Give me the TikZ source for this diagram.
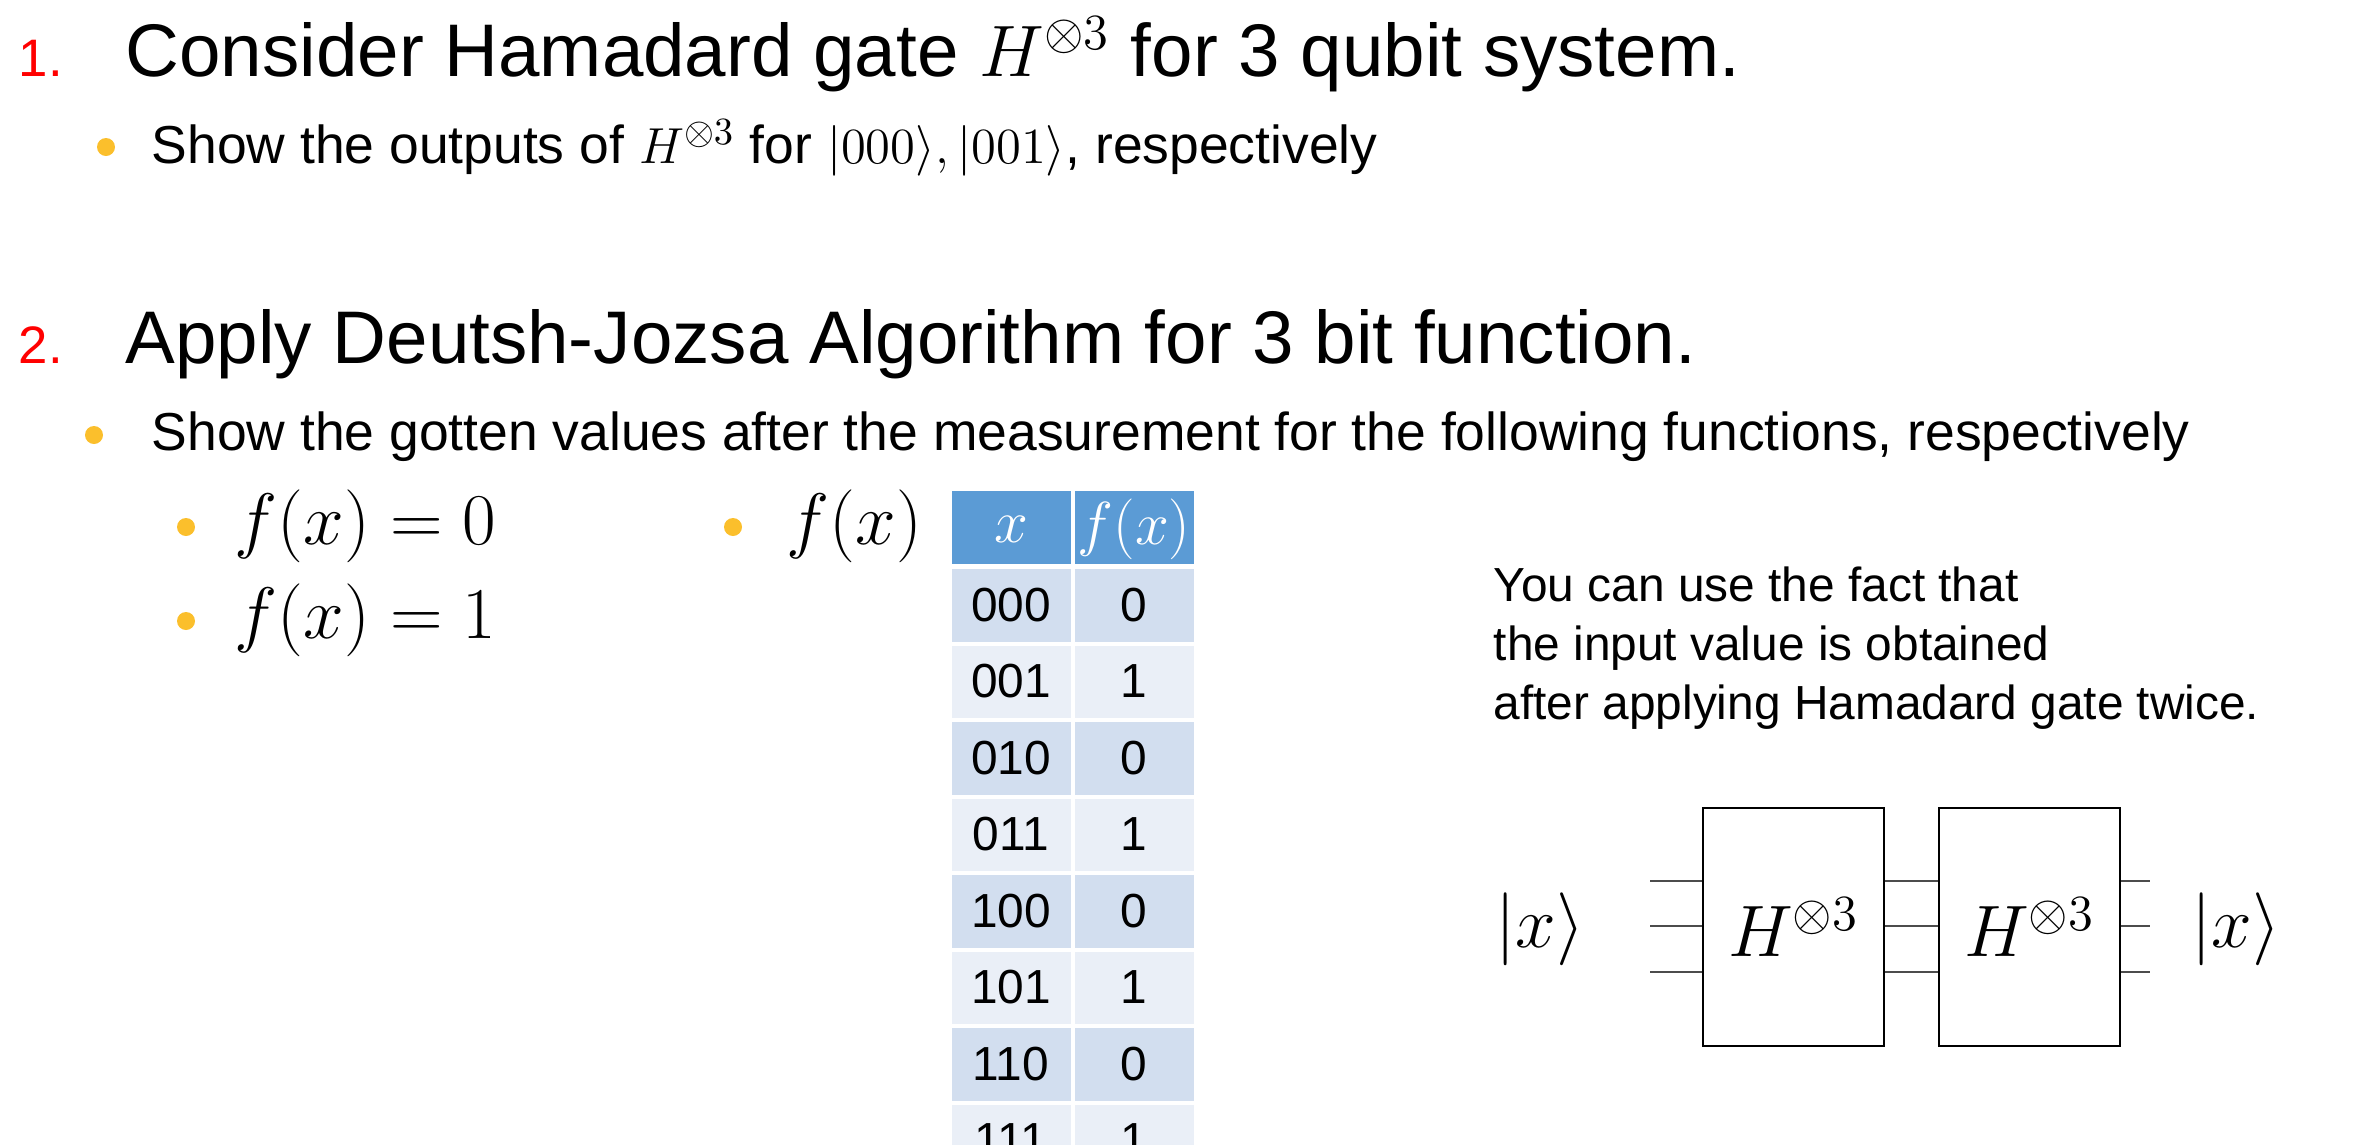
\documentclass[tikz,border=0pt]{standalone}
\usepackage{fontspec}
\setmainfont{Liberation Sans}
\definecolor{hdr}{HTML}{5B9BD5}
\definecolor{rowA}{HTML}{D2DEEF}
\definecolor{rowB}{HTML}{EAEFF7}
\definecolor{bul}{HTML}{FBBF2C}
\definecolor{red1}{HTML}{FF0000}
\begin{document}
\begin{tikzpicture}[x=0.01cm,y=-0.01cm,
  title/.style={anchor=base west,inner sep=0,font=\fontsize{21.2}{25}\selectfont},
  num/.style={anchor=base west,inner sep=0,text=red1,font=\fontsize{15}{18}\selectfont},
  txt/.style={anchor=base west,inner sep=0,font=\fontsize{15.2}{18}\selectfont},
  mtxt/.style={anchor=base west,inner sep=0,font=\fontsize{19.5}{23}\selectfont},
  ctxt/.style={anchor=base west,inner sep=0,font=\fontsize{13.6}{16}\selectfont},
  dot/.style={circle,fill=bul,inner sep=0,minimum size=18*0.01cm},
  cell/.style={inner sep=0,font=\fontsize{13.6}{16}\selectfont},
  gate/.style={draw,line width=0.8pt,inner sep=0,minimum width=181*0.01cm,minimum height=238*0.01cm,font=\fontsize{20}{24}\selectfont},
  wire/.style={draw=black!70,line width=0.5pt}]
\useasboundingbox (0,0) rectangle (2370,1144);
\node[num] (n1) at (18,76) {1.};
\node[title] (t1) at (125,76) {Consider Hamadard gate $H^{\otimes 3}$ for 3 qubit system.};
\node[dot] (d1) at (106,147) {};
\node[txt] (b1) at (151,163) {Show the outputs of $H^{\otimes 3}$ for $|000\rangle, |001\rangle$, respectively};
\node[num] (n2) at (18,363) {2.};
\node[title] (t2) at (125,363) {Apply Deutsh-Jozsa Algorithm for 3 bit function.};
\node[dot] (d2) at (94,435) {};
\node[txt] (b2) at (151,450) {Show the gotten values after the measurement for the following functions, respectively};
\node[dot] (d3) at (186,527) {};
\node[mtxt] (m1) at (234,544) {$f(x)=0$};
\node[dot] (d4) at (186,621) {};
\node[mtxt] (m2) at (234,638) {$f(x)=1$};
\node[dot] (d5) at (733,527) {};
\node[mtxt] (m3) at (786,544) {$f(x)$};
% table
\fill[hdr] (952,491) rectangle (1071,564);
\fill[hdr] (1075,491) rectangle (1194,564);
\node[cell,text=white,font=\fontsize{16}{19}\selectfont] (hx) at (1011,529) {$x$};
\node[cell,text=white,font=\fontsize{16}{19}\selectfont] (hf) at (1134,529) {$f(x)$};
\foreach \r/\a/\b in {0/000/0,1/001/1,2/010/0,3/011/1,4/100/0,5/101/1,6/110/0,7/111/1}{
  \pgfmathsetmacro{\yt}{569+76.5*\r}
  \pgfmathsetmacro{\yb}{\yt+72.5}
  \pgfmathsetmacro{\ym}{\yt+36}
  \ifodd\r \def\rc{rowB}\else\def\rc{rowA}\fi
  \fill[\rc] (952,\yt) rectangle (1071,\yb);
  \fill[\rc] (1075,\yt) rectangle (1194,\yb);
  \node[cell] (ca\r) at (1011,\ym) {\a};
  \node[cell] (cb\r) at (1134,\ym) {\b};
}
% comment
\node[ctxt] (c1) at (1493,601) {You can use the fact that};
\node[ctxt] (c2) at (1493,660) {the input value is obtained};
\node[ctxt] (c3) at (1493,719) {after applying Hamadard gate twice.};
% circuit
\node[gate] (g1) at (1793.5,927) {$H^{\otimes 3}$};
\node[gate] (g2) at (2029.5,927) {$H^{\otimes 3}$};
\node[inner sep=0,font=\fontsize{20}{24}\selectfont] (kl) at (1540,929) {$|x\rangle$};
\node[inner sep=0,font=\fontsize{20}{24}\selectfont] (kr) at (2236,929) {$|x\rangle$};
\foreach \yy [count=\i] in {881,926,972}{
  \coordinate (l\i) at (1650,\yy);
  \coordinate (r\i) at (2150,\yy);
  \draw[wire] (l\i) -- (l\i -| g1.west);
  \draw[wire] (l\i -| g1.east) -- (l\i -| g2.west);
  \draw[wire] (l\i -| g2.east) -- (r\i);
}
\end{tikzpicture}
\end{document}
